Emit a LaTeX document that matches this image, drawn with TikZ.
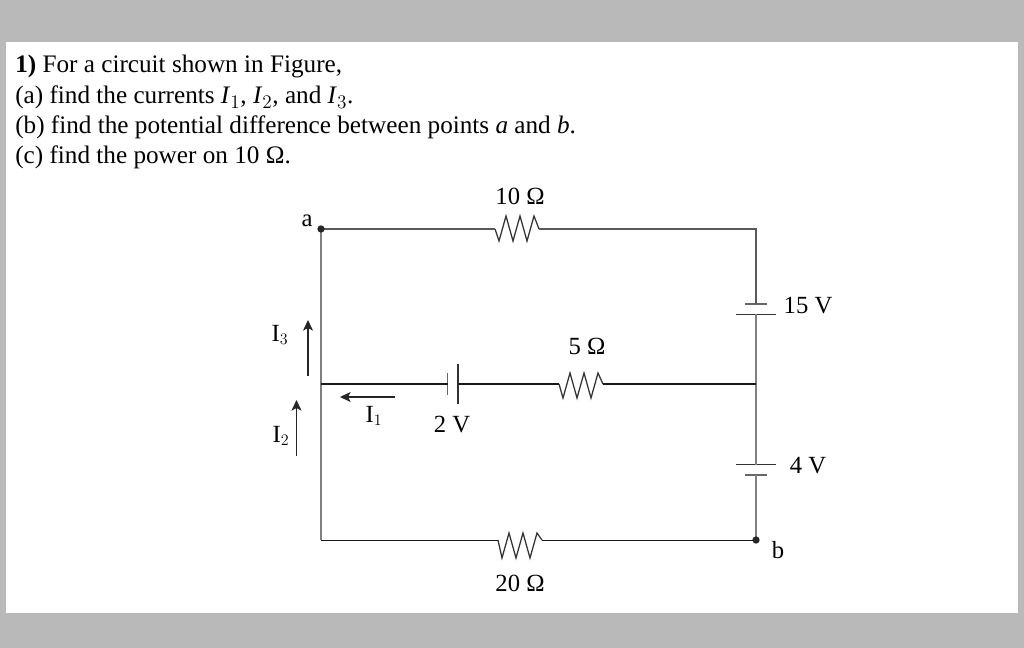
\documentclass[tikz,border=0pt]{standalone}
\usepackage{fontspec}
\usetikzlibrary{arrows.meta}
\setmainfont{Liberation Serif}
\definecolor{pagegray}{HTML}{B9B9B9}
\begin{document}
\begin{tikzpicture}[x=0.75pt, y=-0.75pt, >={Stealth[length=8pt,width=7.5pt,inset=2pt]},
	wire/.style={draw=black!65, line width=0.85pt},
	lowwire/.style={draw=black!90, line width=0.75pt},
	mainwire/.style={draw=black!90, line width=1.35pt},
	sidewire/.style={draw=black!50, line width=1.2pt},
	lbl/.style={font=\fontsize{18.5}{20}\selectfont, inner sep=0pt},
	qline/.style={lbl, font=\fontsize{18.9}{20}\selectfont, anchor=base west},
	current/.style={->, draw=black!85, line width=0.85pt},
	dot/.style={circle, fill=black!85, inner sep=0pt, minimum size=5.5pt},
	pics/resistor/.default=0,
	pics/resistor/.style={code={
		\coordinate (-in) at (-22,#1);
		\coordinate (-out) at (22,#1);
		\draw[line width=0.95pt, draw=black!80, line join=miter] (-22,#1) -- (-18,12) -- (-11,-13) -- (-4,12) -- (3,-13)
			-- (10,12) -- (17,-13) -- (22,#1);
	}},
	battery/.pic={
		\coordinate (-neg) at (0,0);
		\coordinate (-pos) at (10.5,0);
		\draw[line width=0.85pt, draw=black!60] (0,-11) -- (0,11);
		\draw[line width=1pt, draw=black!80] (10.5,-20) -- (10.5,20);
	}]
	\useasboundingbox (0,0) rectangle (1024,648);
	\fill[pagegray] (0,0) rectangle (1024,648);
	\fill[white] (6,42) rectangle (1018,613);

	% question text
	\node[qline] (q1) at (15,73) {\textbf{1)} For a circuit shown in Figure,};
	\node[qline] (q2) at (15,104) {(a) find the currents \textit{I}$_1$, \textit{I}$_2$, and \textit{I}$_3$.};
	\node[qline] (q3) at (15,134) {(b) find the potential difference between points \textit{a} and \textit{b}.};
	\node[qline] (q4) at (15,164) {(c) find the power on 10 Ω.};

	% corners and junctions
	\coordinate (a) at (321,229);
	\coordinate (topR) at (756,229);
	\coordinate (midL) at (321,384);
	\coordinate (midR) at (756,384);
	\coordinate (b) at (756,540);
	\coordinate (botL) at (321,540);

	\pic (Rten) at (517,229) {resistor};
	\pic (Rfive) at (581,386) {resistor=-2};
	\pic (Rtwenty) at (520,546) {resistor=-6};
	\pic (Btwo) at (447.5,384) {battery};
	\pic[rotate=-90] (Bfifteen) at (756,304) {battery};
	\pic[rotate=90] (Bfour) at (756,475) {battery};

	\draw[wire] (a) -- (Rten-in);
	\draw[wire] (Rten-out) -- (topR) -- (Bfifteen-neg);
	\draw[sidewire] (Bfifteen-pos) -- (midR) -- (Bfour-pos);
	\draw[sidewire] (Bfour-neg) -- (b);
	\draw[lowwire] (b) -- (Rtwenty-out);
	\draw[lowwire] (Rtwenty-in) -- (botL);
	\draw[sidewire] (botL) -- (midL) -- (a);
	\draw[mainwire] (midL) -- (Btwo-neg);
	\draw[mainwire] (Btwo-pos) -- (Rfive-in);
	\draw[mainwire] (Rfive-out) -- (midR);

	\node[dot] (adot) at (a) {};
	\node[dot] (bdot) at (b) {};

	% currents
	\coordinate (ithreeS) at (308,376);
	\coordinate (ithreeE) at (308,320);
	\coordinate (itwoS) at (296.5,456);
	\coordinate (itwoE) at (296.5,400);
	\coordinate (ioneS) at (395,397);
	\coordinate (ioneE) at (340,397);
	\draw[current] (ithreeS) -- (ithreeE);
	\draw[current] (itwoS) -- (itwoE);
	\draw[current] (ioneS) -- (ioneE);

	% labels
	\node[lbl] (la) at (307,221) {a};
	\node[lbl] (lb) at (778,550) {b};
	\node[lbl] (lten) at (520,196) {10 Ω};
	\node[lbl] (lfive) at (587,346) {5 Ω};
	\node[lbl] (ltwenty) at (520,583) {20 Ω};
	\node[lbl] (lfifteen) at (808,306) {15 V};
	\node[lbl] (lfour) at (808,466) {4 V};
	\node[lbl] (ltwo) at (452,425) {2 V};
	\node[lbl] (lIthree) at (280,335) {I$_3$};
	\node[lbl] (lItwo) at (281,436) {I$_2$};
	\node[lbl] (lIone) at (374,416) {I$_1$};
\end{tikzpicture}
\end{document}
